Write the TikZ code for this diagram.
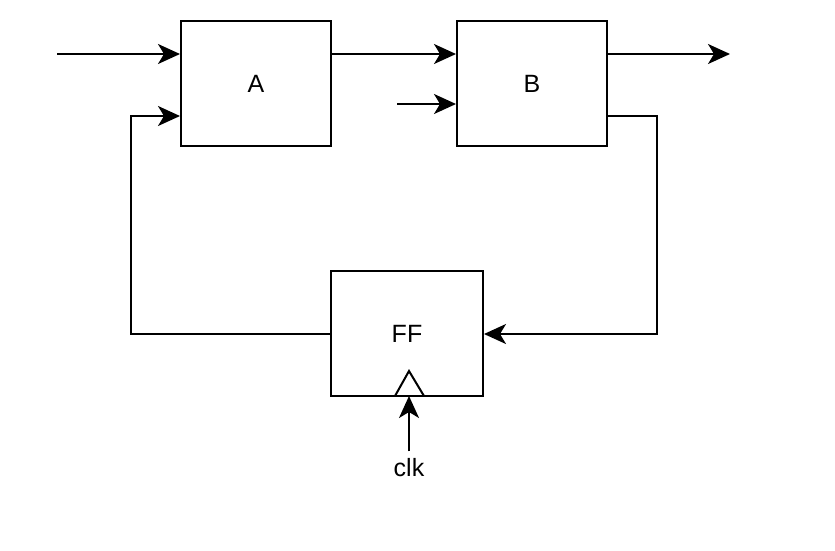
\documentclass[tikz,border=0pt]{standalone}
\usepackage{fontspec}
\setmainfont{Liberation Sans}
\usetikzlibrary{arrows.meta}
\begin{document}
\begin{tikzpicture}[x=1pt,y=-1pt,
  blk/.style={draw,line width=2pt,minimum width=150pt,minimum height=125pt,inner sep=0pt,font=\fontsize{25}{28}\selectfont},
  wire/.style={line width=2pt,-{Stealth[length=22pt,width=20pt,inset=6pt]}},
  line/.style={line width=2pt}]
\useasboundingbox[fill=white] (0,0) rectangle (835,550);
\node[blk] (A) at (256,83.5) {A};
\node[blk] (B) at (532,83.5) {B};
\node[blk,minimum width=152pt] (F) at (407,333.5) {FF};
\coordinate (ain) at (57,54);
\coordinate (bin) at (397,104);
\coordinate (bout) at (730,54);
\coordinate (c1) at (131,334);
\coordinate (c2) at (131,116);
\coordinate (d1) at (657,116);
\coordinate (d2) at (657,334);
\node[font=\fontsize{25}{28}\selectfont] (clk) at (409,468) {clk};
\draw[wire] (ain) -- (A.west |- ain);
\draw[wire] (A.east |- ain) -- (B.west |- ain);
\draw[wire] (bin) -- (B.west |- bin);
\draw[wire] (B.east |- bout) -- (bout);
\draw[wire] (F.west |- c1) -- (c1) -- (c2) -- (A.west |- c2);
\draw[wire] (B.east |- d1) -- (d1) -- (d2) -- (F.east |- d2);
\draw[wire] (clk.north) ++(0,-4) -- (409,396);
\draw[line] (395,396) -- (409,371) -- (424,396);
\end{tikzpicture}
\end{document}
